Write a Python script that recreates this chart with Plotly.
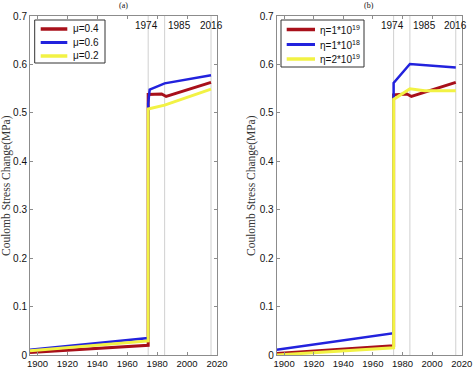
import plotly.graph_objects as go

# ---------- data ----------
EVENT_YEARS = [1974, 1985, 2016]
EVENT_LABELS = ["1974", "1985", "2016"]

# panel (a): friction coefficient
A_RED_YEARS = [1895, 1974, 1974, 1983, 1986, 2016]
A_RED_VALS = [0.005, 0.020, 0.538, 0.539, 0.534, 0.563]
A_BLUE_YEARS = [1895, 1974, 1974, 1975, 1985, 2016]
A_BLUE_VALS = [0.011, 0.035, 0.520, 0.548, 0.561, 0.578]
A_YEL_YEARS = [1895, 1974, 1974, 1985, 2016]
A_YEL_VALS = [0.009, 0.029, 0.508, 0.516, 0.549]
A_NAMES = ["μ=0.4", "μ=0.6", "μ=0.2"]

# panel (b): viscosity
B_RED_YEARS = [1895, 1974, 1974, 1983, 1986, 2016]
B_RED_VALS = [0.003, 0.019, 0.537, 0.539, 0.534, 0.563]
B_BLUE_YEARS = [1895, 1974, 1974, 1974, 1985, 2016]
B_BLUE_VALS = [0.011, 0.045, 0.528, 0.562, 0.601, 0.594]
B_YEL_YEARS = [1895, 1974, 1974, 1985, 1995, 2016]
B_YEL_VALS = [0.000, 0.015, 0.528, 0.550, 0.546, 0.546]
B_NAMES = ["η=1*10<sup>19</sup>", "η=1*10<sup>18</sup>", "η=2*10<sup>19</sup>"]

X_TICKS = [1900, 1920, 1940, 1960, 1980, 2000, 2020]
Y_TICKS = [0, 0.1, 0.2, 0.3, 0.4, 0.5, 0.6, 0.7]
Y_TICKTEXT = ["0", "0.1", "0.2", "0.3", "0.4", "0.5", "0.6", "0.7"]

RED = "#a8101a"
BLUE = "#2222dd"
YEL = "#f2f244"
COLORS = [RED, BLUE, YEL]
WIDTHS = [3, 2.5, 3]

W, H = 474, 369
fig = go.Figure()


def px_x(p):
    return p / W


def px_y(p):
    return 1 - p / H


panels = [
    dict(xa="x", ya="y", lines=[(A_RED_YEARS, A_RED_VALS), (A_BLUE_YEARS, A_BLUE_VALS), (A_YEL_YEARS, A_YEL_VALS)],
         names=A_NAMES, box=(34.7, 20, 105, 63), rows=[29, 42.5, 56], lx=(40.7, 67.3), tx=71,
         title="(a)", tcx=123.5, ytx=6),
    dict(xa="x2", ya="y2", lines=[(B_RED_YEARS, B_RED_VALS), (B_BLUE_YEARS, B_BLUE_VALS), (B_YEL_YEARS, B_YEL_VALS)],
         names=B_NAMES, box=(281, 20, 364, 67), rows=[29.5, 44.5, 59], lx=(286.7, 315), tx=318,
         title="(b)", tcx=369, ytx=251),
]

for p in panels:
    for (xs, ys), nm, c, w in zip(p["lines"], p["names"], COLORS, WIDTHS):
        fig.add_trace(go.Scatter(x=xs, y=ys, mode="lines", name=nm, xaxis=p["xa"], yaxis=p["ya"],
                                 showlegend=False, line=dict(color=c, width=w)))
    # event lines and labels
    for yr, lab in zip(EVENT_YEARS, EVENT_LABELS):
        fig.add_shape(type="line", xref=p["xa"], yref=p["ya"] + " domain", x0=yr, x1=yr, y0=0, y1=1,
                      line=dict(color="#d0d0d0", width=1), layer="below")
        if lab == "1985":
            fig.add_annotation(x=yr + 1, y=0.681, xref=p["xa"], yref=p["ya"], text=lab, showarrow=False,
                               xanchor="left", font=dict(size=10, color="#111", family="Liberation Sans"))
        else:
            fig.add_annotation(x=yr - 1 if lab == "1974" else yr, y=0.681, xref=p["xa"], yref=p["ya"], text=lab,
                               showarrow=False, xanchor="center",
                               font=dict(size=10, color="#111", family="Liberation Sans"))
    # legend box drawn by hand (MATLAB-style compact legend)
    x0, y0, x1, y1 = p["box"]
    fig.add_shape(type="rect", xref="paper", yref="paper", x0=px_x(x0), x1=px_x(x1), y0=px_y(y0), y1=px_y(y1),
                  line=dict(color="#333", width=1), fillcolor="white", layer="above")
    for ry, nm, c, w in zip(p["rows"], p["names"], COLORS, WIDTHS):
        fig.add_shape(type="line", xref="paper", yref="paper", x0=px_x(p["lx"][0]), x1=px_x(p["lx"][1]),
                      y0=px_y(ry), y1=px_y(ry), line=dict(color=c, width=w + 0.5), layer="above")
        fig.add_annotation(x=px_x(p["tx"]), y=px_y(ry), xref="paper", yref="paper", text=nm, showarrow=False,
                           xanchor="left", yanchor="middle",
                           font=dict(size=10, color="#111", family="Liberation Sans"))
    # panel title
    fig.add_annotation(x=px_x(p["tcx"]), y=px_y(5.5), xref="paper", yref="paper", text=p["title"],
                       showarrow=False, xanchor="center", yanchor="middle",
                       font=dict(size=8, family="Liberation Serif", color="#111"))
    # y axis title
    fig.add_annotation(x=px_x(p["ytx"]), y=px_y(186), xref="paper", yref="paper",
                       text="Coulomb Stress Change(MPa)", textangle=-90, showarrow=False,
                       xanchor="center", yanchor="middle",
                       font=dict(size=11.5, family="Liberation Serif", color="#333"))

dom_a = [30 / W, 217 / W]
dom_b = [276.7 / W, 461.7 / W]
dom_y = [1 - 355 / H, 1 - 16 / H]
Y_MAX = 0.7002

axis_common = dict(showgrid=False, zeroline=False, showline=True, linecolor="#8c8c8c", linewidth=1,
                   mirror="ticks", ticks="inside", ticklen=3, tickcolor="#8c8c8c", automargin=False)
xfont = dict(size=9.5, color="#111", family="Liberation Sans")
yfont = dict(size=10, color="#111", family="Liberation Sans")

fig.update_layout(
    width=W, height=H, margin=dict(l=0, r=0, t=0, b=0),
    paper_bgcolor="white", plot_bgcolor="white",
    xaxis=dict(domain=dom_a, range=[1895, 2020], tickvals=X_TICKS, anchor="y", tickfont=xfont, **axis_common),
    yaxis=dict(domain=dom_y, range=[0, Y_MAX], tickvals=Y_TICKS, ticktext=Y_TICKTEXT, anchor="x",
               tickfont=yfont, **axis_common),
    xaxis2=dict(domain=dom_b, range=[1895, 2020], tickvals=X_TICKS, anchor="y2", tickfont=xfont, **axis_common),
    yaxis2=dict(domain=dom_y, range=[0, Y_MAX], tickvals=Y_TICKS, ticktext=Y_TICKTEXT, anchor="x2",
                tickfont=yfont, **axis_common),
    showlegend=False,
)

fig.write_html("out.html", config={"displayModeBar": False},
               post_script="document.body.style.margin='0';document.body.style.padding='0';")
